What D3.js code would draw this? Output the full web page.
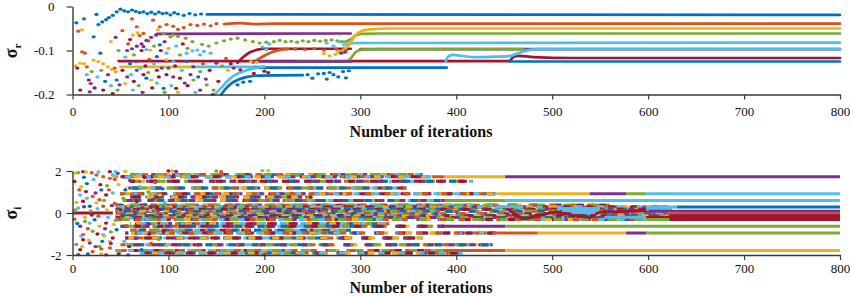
<!DOCTYPE html>
<html><head><meta charset="utf-8">
<script src="https://cdn.jsdelivr.net/npm/d3@7"></script>
<style>body{margin:0;background:#fff}svg{display:block}</style>
</head><body><svg id="c" width="850" height="296"></svg>
<script>
// ---------- DATA ----------
const COLORS = ["#0072BD","#D95319","#EDB120","#7E2F8E","#77AC30","#4DBEEE","#A2142F"];
const xTicks = [0,100,200,300,400,500,600,700,800];
const topYTicks = [0,-0.1,-0.2];
const topYTickLabels = ["0","-0.1","-0.2"];
const botYTicks = [2,0,-2];
const botYTickLabels = ["2","0","-2"];

// top plot (sigma_r) converged / smooth parts: [iteration, value]
const tBlue1   = [[140,-0.018],[800,-0.019]];
const tOrange1 = [[158,-0.040],[175,-0.038],[190,-0.040],[210,-0.039],[800,-0.039]];
const tOrange2 = [[188,-0.128],[195,-0.118],[205,-0.106],[215,-0.099],[225,-0.097]];
const tYellow0 = [[50,-0.137],[122,-0.137]];
const tYellow1 = [[276,-0.104],[283,-0.098],[289,-0.085],[294,-0.068],[300,-0.057],[310,-0.052],[330,-0.050],[800,-0.050]];
const tPurple1 = [[88,-0.062],[290,-0.0614]];
const tPurple2 = [[190,-0.125],[290,-0.125]];
const tPurple3 = [[300,-0.097],[800,-0.097]];
const tGreen1  = [[284,-0.080],[290,-0.075],[295,-0.066],[302,-0.062],[320,-0.0614],[800,-0.0614]];
const tGreen2  = [[235,-0.125],[285,-0.125],[290,-0.118],[295,-0.104],[302,-0.098],[320,-0.097],[470,-0.097]];
const tLblue1  = [[286,-0.085],[296,-0.083],[800,-0.082]];
const tLblue2  = [[148,-0.2],[155,-0.185],[162,-0.168],[170,-0.155],[180,-0.146],[190,-0.140],[200,-0.137]];
const tLblue0  = [[122,-0.137],[200,-0.137]];
const tLblue3  = [[389,-0.125],[392,-0.113],[397,-0.110],[405,-0.112],[420,-0.115],[440,-0.114],[455,-0.113],[465,-0.106],[475,-0.099],[485,-0.097],[800,-0.097]];
const tRed1    = [[48,-0.124],[455,-0.124],[460,-0.114],[465,-0.112],[480,-0.115],[520,-0.117],[800,-0.117]];
const tRed2    = [[172,-0.128],[178,-0.115],[185,-0.104],[193,-0.098],[200,-0.096],[290,-0.096]];
const tBlue2   = [[155,-0.2],[160,-0.186],[166,-0.174],[173,-0.166],[182,-0.160],[195,-0.157],[240,-0.156]];
const tBlue3   = [[190,-0.139],[390,-0.139]];
const tBlue4   = [[455,-0.125],[800,-0.125]];
const topLines = [[0,tBlue1],[1,tOrange1],[5,tLblue0],[2,tYellow0],[6,tRed1],[0,tBlue4],[3,tPurple1],[3,tPurple3],
  [4,tGreen2],[5,tLblue3],[0,tBlue3],[0,tBlue2],[5,tLblue2],[6,tRed2],[1,tOrange2],[3,tPurple2],[4,tGreen1],[5,tLblue1],[2,tYellow1]];

// top plot scattered markers: [iteration, value, colour index]
const topDots = [
 [4,-0.037,0],[12,-0.028,0],[25,-0.018,0],[27,-0.041,0],[31,-0.035,0],[35,-0.030,0],[38,-0.025,0],[42,-0.020,0],[46,-0.012,0],
 [50,-0.006,0],[54,-0.010,0],[58,-0.012,0],[62,-0.008,0],[66,-0.011,0],[70,-0.014,0],[74,-0.012,0],[78,-0.016,0],[82,-0.013,0],
 [86,-0.017,0],[90,-0.013,0],[94,-0.016,0],[98,-0.015,0],[102,-0.019,0],[106,-0.014,0],[110,-0.017,0],[116,-0.020,0],[122,-0.016,0],
 [128,-0.019,0],[134,-0.017,0],[22,-0.069,0],[29,-0.106,0],[46,-0.167,0],[67,-0.145,0],[77,-0.163,0],[95,-0.186,0],[88,-0.114,0],
 [91,-0.087,0],[119,-0.125,0],[172,-0.178,0],[178,-0.172,0],[185,-0.170,0],[245,-0.155,0],[250,-0.163,0],[256,-0.153,0],[262,-0.152,0],
 [265,-0.165,0],[268,-0.150,0],[272,-0.155,0],[277,-0.160,0],[282,-0.148,0],[285,-0.162,0],[288,-0.146,0],
 [6,-0.056,1],[10,-0.103,1],[13,-0.106,1],[15,-0.137,1],[58,-0.085,1],[62,-0.028,1],[67,-0.046,1],[70,-0.066,1],[74,-0.061,1],
 [79,-0.078,1],[84,-0.031,1],[91,-0.046,1],[98,-0.041,1],[105,-0.045,1],[110,-0.052,1],[116,-0.048,1],[123,-0.041,1],[130,-0.043,1],
 [137,-0.040,1],[144,-0.044,1],[150,-0.039,1],[160,-0.118,1],[232,-0.097,1],[242,-0.098,1],[252,-0.096,1],[262,-0.099,1],[275,-0.097,1],[285,-0.100,1],
 [10,-0.053,2],[8,-0.129,2],[22,-0.122,2],[27,-0.125,2],[32,-0.130,2],[37,-0.137,2],[41,-0.143,2],[45,-0.148,2],[63,-0.065,2],[67,-0.091,2],
 [81,-0.099,2],[82,-0.167,2],[89,-0.053,2],[98,-0.121,2],[186,-0.125,2],[192,-0.127,2],[262,-0.107,2],[268,-0.112,2],[274,-0.109,2],
 [18,-0.194,3],[49,-0.178,3],[57,-0.160,3],[57,-0.100,3],[62,-0.096,3],[67,-0.090,3],[72,-0.085,3],[74,-0.091,3],[77,-0.077,3],[82,-0.070,3],
 [87,-0.065,3],[88,-0.145,3],[105,-0.160,3],[117,-0.174,3],[126,-0.137,3],[133,-0.190,3],[150,-0.129,3],[168,-0.140,3],[280,-0.106,3],[284,-0.104,3],
 [20,-0.148,4],[95,-0.061,4],[102,-0.069,4],[105,-0.065,4],[110,-0.068,4],[118,-0.072,4],[125,-0.080,4],[126,-0.167,4],[133,-0.148,4],[135,-0.086,4],
 [140,-0.178,4],[142,-0.090,4],[147,-0.190,4],[150,-0.083,4],[158,-0.078,4],[165,-0.074,4],[172,-0.072,4],[180,-0.076,4],[188,-0.080,4],[195,-0.083,4],
 [202,-0.081,4],[210,-0.080,4],[216,-0.077,4],[222,-0.080,4],[228,-0.079,4],[234,-0.081,4],[240,-0.078,4],[246,-0.080,4],[252,-0.077,4],[258,-0.079,4],
 [264,-0.077,4],[270,-0.076,4],[276,-0.078,4],[281,-0.080,4],
 [63,-0.190,5],[77,-0.098,5],[88,-0.174,5],[98,-0.106,5],[105,-0.125,5],[119,-0.106,5],[125,-0.101,5],[130,-0.099,5],[133,-0.110,5],[137,-0.102,5],
 [144,-0.106,5],[198,-0.092,5],[202,-0.098,5],[205,-0.085,5],[265,-0.083,5],[272,-0.090,5],[278,-0.080,5],[283,-0.087,5],
 [8,-0.190,6],[17,-0.167,6],[32,-0.190,6],[42,-0.198,6],[74,-0.155,6],[98,-0.155,6],[108,-0.186,6],[112,-0.163,6],[175,-0.144,6],[189,-0.152,6],
 [200,-0.147,6],[204,-0.150,6],
 [3,-0.135,2],[5,-0.140,6],[12,-0.130,2],[15,-0.155,5],[19,-0.175,3],[23,-0.185,6],[26,-0.160,5],[30,-0.145,4],[34,-0.170,0],[37,-0.155,3],
 [40,-0.180,5],[44,-0.140,1],[47,-0.190,4],[52,-0.145,6],[55,-0.175,2],[60,-0.130,0],[61,-0.155,5],[64,-0.170,6],[66,-0.125,3],[69,-0.180,4],
 [71,-0.140,5],[73,-0.195,3],[76,-0.135,6],[79,-0.150,4],[83,-0.185,6],[85,-0.130,5],[90,-0.160,6],[93,-0.140,3],[96,-0.195,4],[100,-0.140,0],
 [103,-0.180,5],[107,-0.135,6],[110,-0.195,2],[114,-0.145,5],[120,-0.180,6],[123,-0.155,3],[128,-0.195,5],[131,-0.160,0],[136,-0.130,1],[139,-0.165,3],
 [143,-0.145,6],[146,-0.200,3],[152,-0.170,6],[156,-0.135,4],[162,-0.145,2],[165,-0.130,6],
 [40,-0.080,2],[45,-0.070,3],[48,-0.100,4],[52,-0.055,1],[55,-0.115,5],[60,-0.075,6],[64,-0.110,4],[68,-0.060,2],[72,-0.100,6],[80,-0.120,1],
 [85,-0.090,4],[92,-0.100,6],[96,-0.080,3],[100,-0.095,2],[108,-0.090,5],[112,-0.110,4],[115,-0.085,6],[120,-0.095,4]
];

// bottom plot (sigma_i) mode levels
const bLevelVals  = [1.82,1.73,1.51,1.19,0.92,0.76,0.60,0.37,0.28,0.18,0.08,-0.05,-0.13,-0.22,-0.31,-0.51,-0.63,-0.82,-0.95,-1.19,-1.51,-1.78,-1.90];
const bLevelStart = [60,42,60,55,50,60,50,45,45,45,45,45,45,45,45,60,50,60,55,55,50,45,70];
const bLevelMixEnd= [365,375,417,348,442,250,388,560,622,600,600,620,622,600,598,330,388,290,442,365,438,388,407];
// solid coloured stretches: [value, from, to, colour index]
const bSegs = [
 [1.73,375,388,1],[1.73,388,451,2],[1.73,451,800,3],
 [0.92,442,539,2],[0.92,539,577,3],[0.92,577,598,4],[0.92,598,800,5],
 [0.60,388,451,4],[0.60,451,800,5],
 [0.30,440,470,5],[0.22,505,550,5],[0.12,510,548,5],[0.02,520,545,5],[-0.20,555,598,5],
 [0.28,600,630,5],[0.28,630,800,0],[0.18,598,625,5],
 [0.08,600,800,3],[-0.05,620,800,1],[-0.13,622,800,6],[-0.22,598,800,6],[-0.31,598,622,4],[-0.31,622,800,6],
 [-0.63,388,451,3],[-0.63,451,800,4],
 [-0.95,442,485,1],[-0.95,485,577,2],[-0.95,577,598,3],[-0.95,598,800,4],
 [-1.78,388,451,1],[-1.78,451,800,2]
];
const bRedWave = [[452,0.21],[460,0.0],[470,-0.27],[487,-0.11],[504,0.05],[522,-0.11],[539,-0.19],[550,0.05],[563,0.05],[577,0.08],[600,0.13]];
const bZeroLine = [[0,0],[42,0]];
const botDots = [
 [6,1.92,4],[11,1.97,3],[20,1.92,1],[25,1.81,1],[32,1.73,1],[39,1.65,1],[44,1.60,1],[39,1.97,6],[42,1.81,5],[47,1.89,3],[52,1.73,6],
 [9,1.25,2],[8,0.86,5],[14,1.02,6],[21,0.79,1],[28,0.63,1],[35,0.86,6],[11,0.56,6],[18,0.32,0],[25,0.48,2],[32,0.32,1],[6,0.24,5],
 [13,-0.40,4],[18,-0.48,5],[8,-0.63,3],[23,-0.32,0],[28,-0.63,2],[35,-0.48,6],[11,-1.03,1],[21,-0.87,4],[32,-1.03,5],[39,-1.35,2],
 [42,-1.19,6],[11,-1.27,6],[18,-1.43,3],[28,-1.59,4],[8,-1.75,6],[21,-1.83,1],[30,-1.71,1],[39,-1.67,1],[6,-1.98,3],[35,-2.0,6],[49,-1.90,5],
 [4,0.50,2],[5,-0.50,0],[15,0.70,5],[16,-0.75,1],[24,0.95,3],[26,-1.00,6],[30,1.10,0],[33,-1.10,2],[36,1.30,4],[40,-1.45,3],
 [3,1.90,2],[14,1.95,2],[16,-1.95,0],[45,1.97,5],[48,-1.95,6],[55,1.98,2],[58,-2.0,3],
 [42,0.95,5],[44,0.45,1],[45,-0.35,4],[46,-0.80,0],[48,1.35,2],[50,0.15,6],[52,-0.15,3],[53,0.70,4],[54,-1.35,5],[55,1.10,0],
 [56,-0.60,1],[58,0.35,2],[59,-1.60,6],[60,1.55,3],[61,-0.25,5],[62,0.90,1],[63,-0.95,2],[64,1.85,4],[65,0.05,0],[66,-1.20,3],
 [67,0.55,6],[68,-0.45,2],[70,1.25,5],[71,-0.05,4],[72,-1.75,0],[73,0.25,3],[74,-0.70,1],[75,1.70,6],[76,0.40,0],[78,-0.30,5],
 [79,1.00,4],[80,-1.00,6],[81,0.12,2],[82,-1.45,1],[84,0.65,3],[85,-0.18,0],[86,1.45,1],[87,-0.55,5],[88,0.30,6],[90,-1.25,4],
 [91,0.85,2],[92,-0.10,3],[94,1.15,0],[95,-0.85,6],[96,0.50,5],[98,-1.55,2],[99,0.20,1],[100,2.0,6],[104,2.0,2],[108,1.98,3],
 [110,-2.0,5],[150,2.0,4],[155,1.97,1],[152,-2.0,5],[200,-2.0,6],[198,2.02,5],[204,2.02,2],
 [2,1.50,6],[4,-1.50,4],[7,1.10,1],[9,-1.10,5],[12,0.30,3],[13,-0.20,2],[15,1.40,0],[17,-1.30,2],[19,0.10,4],[20,-0.10,6],
 [22,1.60,5],[24,-1.60,3],[26,0.20,5],[27,-0.15,1],[29,1.35,6],[31,-1.35,0],[33,0.60,4],[34,-0.75,3],[36,0.15,2],[37,-0.20,5],
 [38,1.10,1],[40,-0.90,4],[41,0.35,3],[43,-0.55,2],[2,-0.30,1],[3,0.15,4],[10,-1.60,2],[12,1.70,0],[27,1.95,5],[30,-1.95,2]
];

// ---------- DRAWING ----------
const svg = d3.select("#c");
const x = d3.scaleLinear().domain([0,800]).range([72.5,840]);
const yT = d3.scaleLinear().domain([-0.2,0]).range([94.5,6.5]);
const yB = d3.scaleLinear().domain([-2,2]).range([255,171]);
const FONT = "'Liberation Serif','DejaVu Serif',serif";
const defs = svg.append("defs");
defs.append("clipPath").attr("id","clipT").append("rect").attr("x",71).attr("y",3).attr("width",775).attr("height",93);
defs.append("clipPath").attr("id","clipB").append("rect").attr("x",71).attr("y",168).attr("width",775).attr("height",88.5);

function lineGen(ys){ return d3.line().x(d=>x(d[0])).y(d=>ys(d[1])).curve(d3.curveMonotoneX); }

// top data
const gT = svg.append("g").attr("clip-path","url(#clipT)");
const lT = lineGen(yT);
topLines.forEach(([c,pts]) => {
  gT.append("path").attr("d", lT(pts)).attr("fill","none").attr("stroke",COLORS[c]).attr("stroke-width",2.7).attr("stroke-linecap","round");
});
gT.selectAll("ellipse").data(topDots).join("ellipse")
  .attr("cx",d=>x(d[0])).attr("cy",d=>yT(d[1])).attr("rx",2.1).attr("ry",1.6).attr("fill",d=>COLORS[d[2]]);

// bottom data
const gB = svg.append("g").attr("clip-path","url(#clipB)");
const lB = lineGen(yB);
const dashLen = [7,6,7,6,8,6,7];
const dashPer = [23,19,24,21,27,20,22];
bLevelVals.forEach((v,i) => {
  const pts = [[bLevelStart[i],v],[bLevelMixEnd[i],v]];
  const order = [0,1,2,3,4,5,6].map(k => (k*3 + i) % 7);
  order.forEach(k => {
    gB.append("path").attr("d", lB(pts)).attr("fill","none").attr("stroke",COLORS[k]).attr("stroke-width",3)
      .attr("stroke-dasharray", dashLen[k] + " " + (dashPer[k]-dashLen[k]))
      .attr("stroke-dashoffset", (i*13 + k*7) % dashPer[k]);
  });
});
gB.append("path").attr("d", lB(bRedWave)).attr("fill","none").attr("stroke",COLORS[6]).attr("stroke-width",3);
bSegs.forEach(([v,a,b,c]) => {
  gB.append("path").attr("d", lB([[a,v],[b,v]])).attr("fill","none").attr("stroke",COLORS[c]).attr("stroke-width",3);
});
gB.append("path").attr("d", lB(bZeroLine)).attr("fill","none").attr("stroke",COLORS[6]).attr("stroke-width",3);
gB.selectAll("ellipse").data(botDots).join("ellipse")
  .attr("cx",d=>x(d[0])).attr("cy",d=>yB(d[1])).attr("rx",2.1).attr("ry",1.7).attr("fill",d=>COLORS[d[2]]);

// axes
function styleAxis(g){
  g.select(".domain").attr("stroke","#3a3a3a").attr("stroke-width",1.4);
  g.selectAll(".tick line").attr("stroke","#3a3a3a").attr("stroke-width",1.2);
  g.selectAll("text").attr("fill","#111").style("font-family",FONT).style("font-size","13px");
}
const axXT = svg.append("g").attr("transform","translate(0,94.5)")
  .call(d3.axisBottom(x).tickValues(xTicks).tickFormat(d3.format("d")).tickSize(5).tickSizeOuter(0).tickPadding(7));
styleAxis(axXT);
const axYT = svg.append("g").attr("transform","translate(72.5,0)")
  .call(d3.axisLeft(yT).tickValues(topYTicks).tickFormat((d,i)=>topYTickLabels[i]).tickSize(6).tickSizeOuter(0).tickPadding(12));
styleAxis(axYT);
const axXB = svg.append("g").attr("transform","translate(0,255)")
  .call(d3.axisBottom(x).tickValues(xTicks).tickFormat(d3.format("d")).tickSize(5).tickSizeOuter(0).tickPadding(4));
styleAxis(axXB);
const axYB = svg.append("g").attr("transform","translate(72.5,0)")
  .call(d3.axisLeft(yB).tickValues(botYTicks).tickFormat((d,i)=>botYTickLabels[i]).tickSize(6).tickSizeOuter(0).tickPadding(5));
styleAxis(axYB);

// labels
svg.append("text").attr("x",421).attr("y",137).attr("text-anchor","middle")
  .style("font-family",FONT).style("font-weight","bold").style("font-size","16px").attr("fill","#111").text("Number of iterations");
svg.append("text").attr("x",421).attr("y",293).attr("text-anchor","middle")
  .style("font-family",FONT).style("font-weight","bold").style("font-size","16px").attr("fill","#111").text("Number of iterations");
function ylab(cx, cy, sub){
  const t = svg.append("text").attr("transform",`translate(${cx},${cy}) rotate(-90)`).attr("text-anchor","middle")
    .style("font-family",FONT).style("font-weight","bold").style("font-size","18px").attr("fill","#111");
  t.append("tspan").text("σ");
  t.append("tspan").attr("dy",4).style("font-size","11px").text(sub);
}
ylab(17,51,"r");
ylab(17,213,"i");
</script></body></html>
